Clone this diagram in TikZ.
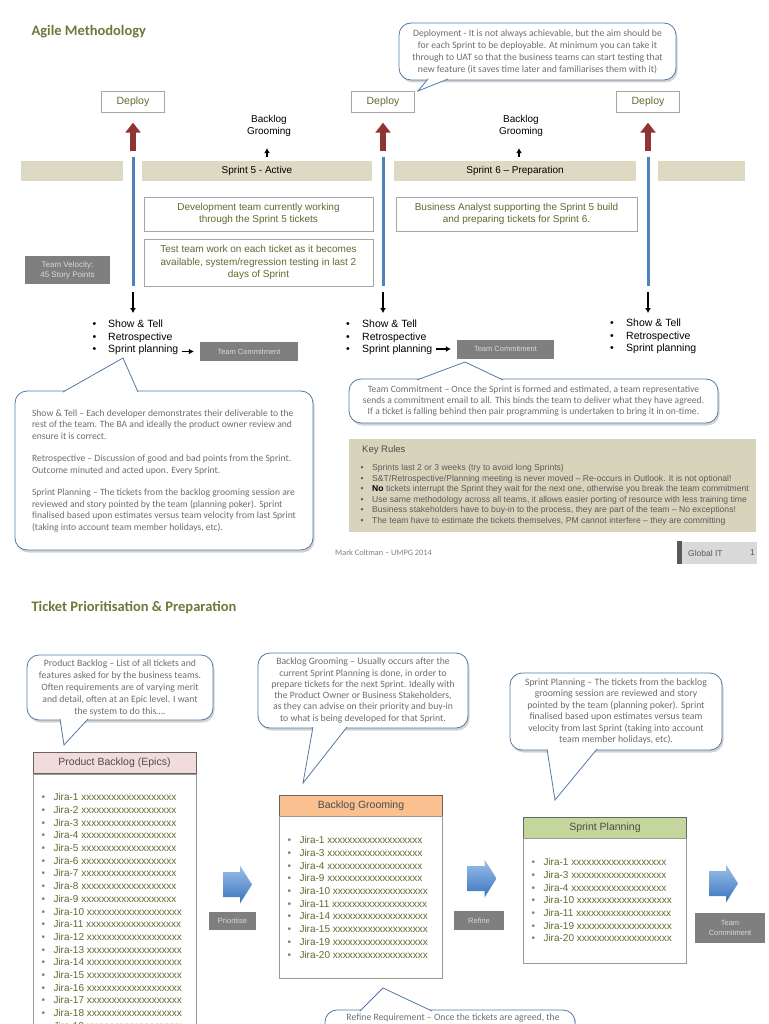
\documentclass[tikz,border=0pt]{standalone}
\usepackage{fontspec}
\setmainfont{Liberation Sans}
\newfontfamily\calfont{Carlito}
\usepackage{xcolor}
\usetikzlibrary{positioning,arrows.meta,shadows}

\definecolor{olivetxt}{HTML}{5E6B30}
\definecolor{titlegreen}{HTML}{687B3B}
\definecolor{bartan}{HTML}{DDD9C3}
\definecolor{rulestan}{HTML}{D8D4BC}
\definecolor{lineblue}{HTML}{4F81BD}
\definecolor{deployred}{HTML}{8E3432}
\definecolor{taggray}{HTML}{7F7F7F}
\definecolor{tagtext}{HTML}{D9D9D9}
\definecolor{calloutline}{HTML}{5479A6}
\definecolor{callouttext}{HTML}{6E6E6E}
\definecolor{rulestext}{HTML}{5A5A5A}
\definecolor{epicpink}{HTML}{F2DCDB}
\definecolor{groomorange}{HTML}{FAC090}
\definecolor{plangreen}{HTML}{C3D69B}
\definecolor{arrowlight}{HTML}{9CC0EA}
\definecolor{arrowdark}{HTML}{3A73BE}

\newcommand{\bul}[1]{\makebox[#1][l]{\textbullet}}
\newcommand{\gbul}{\makebox[12pt][l]{\textcolor{gray}{\textbullet}}}
\newcommand{\xs}{xxxxxxxxxxxxxxxxxxx}
\newcommand{\calloutptr}[4]{%
  \fill[white] ([yshift=#4]#1) -- (#2) -- ([yshift=#4]#3) -- cycle;
  \draw[pointer] ([yshift=#4]#1) -- (#2) -- ([yshift=#4]#3);}

\begin{document}
\begin{tikzpicture}[
    x=1pt, y=-1pt,
    title/.style={anchor=west, text=titlegreen, font=\calfont\bfseries\fontsize{14.5}{16}\selectfont},
    deploybox/.style={draw=gray!70, minimum width=63pt, minimum height=21pt,
                      text=olivetxt, font=\fontsize{10.5}{12}\selectfont},
    sprintbar/.style={fill=bartan, minimum height=20pt, inner sep=0pt,
                      font=\fontsize{10}{12}\selectfont},
    workbox/.style={draw=gray!70, fill=white, align=center, text=olivetxt,
                    inner sep=0pt, font=\fontsize{10}{12.5}\selectfont},
    tag/.style={fill=taggray, text=tagtext, align=center, inner sep=0pt,
                font=\fontsize{7.5}{9.5}\selectfont},
    bullets/.style={anchor=north west, align=left, inner sep=0pt,
                    font=\fontsize{10.5}{12.7}\selectfont},
    callout/.style={draw=calloutline, fill=white, rounded corners=12pt, line width=0.8pt,
                    text=callouttext, align=center, inner sep=0pt,
                    drop shadow={shadow xshift=1.5pt, shadow yshift=-2.5pt, opacity=0.35}},
    pointer/.style={draw=calloutline, line width=0.8pt},
    redarr/.style={draw=deployred, line width=6pt, -{Triangle[length=10pt, width=15pt]}},
    blkarr/.style={-{Latex[length=5pt, width=6pt]}, line width=1.2pt},
    blueline/.style={draw=lineblue, line width=3pt},
    header/.style={draw=gray!80!black, minimum width=163pt, minimum height=21pt,
                   text=black!70, font=\fontsize{10.5}{12}\selectfont},
    listbox/.style={draw=gray!80, fill=white, minimum width=163pt, inner sep=0pt},
    jira/.style={anchor=north west, align=left, inner sep=0pt, text=olivetxt,
                 font=\fontsize{10}{12.7}\selectfont},
    fatarrow/.style={top color=arrowlight, bottom color=arrowdark},
  ]
  \useasboundingbox (0,0) rectangle (768,1024);
  \clip (0,0) rectangle (768,1024);

  \node[title] (agile) at (28,32) {Agile Methodology};

  \node[deploybox] (dep1) at (133,102) {Deploy};
  \node[deploybox] (dep2) at (383,102) {Deploy};
  \node[deploybox] (dep3) at (648,102) {Deploy};

  \node[align=center, font=\fontsize{10}{12}\selectfont] (bg5) at (269,126) {Backlog\\Grooming};
  \node[align=center, font=\fontsize{10}{12}\selectfont] (bg6) at (521,126) {Backlog\\Grooming};

  \node[sprintbar, minimum width=102pt] (bar0) at (72,171) {};
  \node[sprintbar, minimum width=230pt] (bar5) at (257,171) {Sprint 5 - Active};
  \node[sprintbar, minimum width=242pt] (bar6) at (515,171) {Sprint 6 \textendash{} Preparation};
  \node[sprintbar, minimum width=87pt] (bar7) at (701.5,171) {};

  \coordinate (g5) at (267,157);
  \coordinate (g6) at (519,157);
  \draw[blkarr, shorten >=8pt] (g5) -- (g5 |- bg5.south);
  \draw[blkarr, shorten >=8pt] (g6) -- (g6 |- bg6.south);

  \foreach \i/\x in {1/133, 2/383, 3/648} {
    \coordinate (top\i) at (\x,157);
    \coordinate (bot\i) at (\x,286);
    \coordinate (red\i) at (\x,151);
    \coordinate (dn\i) at (\x,292);
    \coordinate (end\i) at (\x,313);
    \draw[blueline] (top\i) -- (bot\i);
    \draw[redarr, shorten >=10pt] (red\i) -- (dep\i.south);
    \draw[blkarr] (dn\i) -- (end\i);
  }

  \node[workbox, minimum width=229pt, minimum height=34pt] (dev) at (258.5,214)
    {Development team currently working\\through the Sprint 5 tickets};
  \node[workbox, minimum width=229pt, minimum height=47pt] (test) at (258.5,262.5)
    {Test team  work on each ticket as it becomes\\available, system/regression testing in last 2\\days of Sprint};
  \node[workbox, minimum width=241pt, minimum height=34pt] (ba) at (516.5,214)
    {Business Analyst supporting the Sprint 5 build\\and preparing tickets for Sprint 6.};

  \node[tag, minimum width=85pt, minimum height=28pt, font=\fontsize{8}{10}\selectfont]
    (vel) at (67.5,270) {Team Velocity:\\45 Story Points};

  \node[bullets] (sl1) at (92.5,319.5) {\bul{15.5pt}Show \& Tell\\\bul{15.5pt}Retrospective\\\bul{15.5pt}Sprint planning};
  \node[bullets] (sl2) at (346,319.5) {\bul{16pt}Show \& Tell\\\bul{16pt}Retrospective\\\bul{16pt}Sprint planning};
  \node[bullets] (sl3) at (610,318.5) {\bul{16pt}Show \& Tell\\\bul{16pt}Retrospective\\\bul{16pt}Sprint planning};

  \node[tag, minimum width=98pt, minimum height=19pt] (tc1) at (249,351.5) {Team Commitment};
  \node[tag, minimum width=97pt, minimum height=19pt] (tc2) at (505.5,349) {Team Commitment};
  \draw[blkarr, shorten <=4pt, shorten >=6pt] (sl1.east |- tc1) -- (tc1.west);
  \draw[blkarr, shorten <=4pt, shorten >=6pt] (sl2.east |- tc2) -- (tc2.west);

  \node[callout, minimum width=277pt, minimum height=57pt, font=\calfont\fontsize{9.7}{12}\selectfont]
    (depnote) at (537.5,51.5)
    {Deployment - It is not always achievable, but the aim should be\\
     for each Sprint to be deployable. At minimum you can take it\\
     through to UAT so that the business teams can start testing that\\
     new feature (it saves time later and familiarises them with it)};
  \calloutptr{428,80}{418,91}{448,80}{1pt}

  \node[callout, minimum width=298pt, minimum height=159pt, align=left,
        font=\calfont\fontsize{9.6}{11.5}\selectfont] (stnote) at (164,470.5)
    {Show \& Tell \textendash{} Each developer demonstrates their deliverable to the\\
     rest of the team. The BA and ideally the product owner review and\\
     ensure it is correct.\\[11pt]
     Retrospective \textendash{} Discussion of good and bad points from the Sprint.\\
     Outcome minuted and acted upon. Every Sprint.\\[11pt]
     Sprint Planning \textendash{} The tickets from the backlog grooming session are\\
     reviewed and story pointed by the team (planning poker). Sprint\\
     finalised based upon estimates versus team velocity from last Sprint\\
     (taking into account team member holidays, etc).};
  \calloutptr{63,391}{123,358}{138,391}{-1pt}

  \node[callout, minimum width=369pt, minimum height=44pt, font=\calfont\fontsize{9.6}{11.2}\selectfont]
    (tcnote) at (533.5,401)
    {Team Commitment \textendash{} Once the Sprint is formed and estimated, a team representative\\
     sends a commitment email to all. This binds the team to deliver what they have agreed.\\
     If a ticket is falling behind then pair programming is undertaken to bring it in on-time.};
  \calloutptr{417,379}{465,362}{503,379}{-1pt}

  \node[fill=rulestan, minimum width=407pt, minimum height=93pt] (rules) at (552.5,485.5) {};
  \node[anchor=west, inner sep=0pt, text=black!70, font=\fontsize{9.5}{11}\selectfont]
    (rulestitle) at (362,450) {Key Rules};
  \node[anchor=north west, align=left, inner sep=0pt, text=rulestext,
        font=\fontsize{8.6}{10.6}\selectfont] (ruleslist) at (360.5,464)
    {\bul{11.5pt}Sprints last 2 or 3 weeks (try to avoid long Sprints)\\
     \bul{11.5pt}S\&T/Retrospective/Planning meeting is never moved \textendash{} Re-occurs in Outlook. It is not optional!\\
     \bul{11.5pt}\textcolor{black}{\textbf{No}} tickets interrupt the Sprint they wait for the next one, otherwise you break the team commitment\\
     \bul{11.5pt}Use same methodology across all teams, it allows easier porting of resource with less training time\\
     \bul{11.5pt}Business stakeholders have to buy-in to the process, they are part of the team \textendash{} No exceptions!\\
     \bul{11.5pt}The team have to estimate the tickets themselves, PM cannot interfere \textendash{} they are committing};

  \node[anchor=west, inner sep=0pt, text=gray, font=\calfont\fontsize{8.3}{9}\selectfont]
    (footer) at (335,553) {Mark Coltman \textendash{} UMPG 2014};
  \fill[black!65] (677,541) rectangle (682,564);
  \node[fill=black!15, anchor=west, minimum width=75pt, minimum height=22pt] (globit) at (682,552.5) {};
  \node[anchor=west, inner sep=0pt, text=black!65, font=\fontsize{8.5}{10}\selectfont]
    (globtxt) at (688,553) {Global IT};
  \node[anchor=west, inner sep=0pt, text=black!65, font=\fontsize{8.5}{10}\selectfont]
    (pagenum) at (750,553) {1};

  \node[title] (ticket) at (28,608) {Ticket Prioritisation \& Preparation};

  \node[callout, minimum width=186pt, minimum height=65pt, font=\calfont\fontsize{9.7}{12}\selectfont]
    (pbnote) at (120,687.5)
    {Product Backlog \textendash{} List of all tickets and\\
     features asked for by the business teams.\\
     Often requirements are of varying merit\\
     and detail, often at an Epic level. I want\\
     the system to do this\ldots.};
  \calloutptr{60,720}{64,745}{88,720}{1pt}

  \node[callout, minimum width=210pt, minimum height=75pt, font=\calfont\fontsize{9.7}{11.3}\selectfont]
    (bgnote) at (363,690.5)
    {Backlog Grooming \textendash{} Usually occurs after the\\
     current Sprint Planning is done, in order to\\
     prepare tickets for the next Sprint. Ideally with\\
     the Product Owner or Business Stakeholders,\\
     as they can advise on their priority and buy-in\\
     to what is being developed for that Sprint.};
  \calloutptr{313,728}{303,783}{347,728}{1pt}

  \node[callout, minimum width=212pt, minimum height=77pt, font=\calfont\fontsize{9.8}{11.5}\selectfont]
    (spnote) at (616,711.5)
    {Sprint Planning \textendash{} The tickets from the backlog\\
     grooming session are reviewed and story\\
     pointed by the team (planning poker). Sprint\\
     finalised based upon estimates versus team\\
     velocity from last Sprint (taking into account\\
     team member holidays, etc).};
  \calloutptr{547,750}{555,800}{597,750}{1pt}

  \node[callout, minimum width=250pt, minimum height=70pt] (rrnote) at (450,1045) {};
  \calloutptr{360,1010}{383,988}{432,1010}{-1pt}
  \node[text=callouttext, inner sep=0pt, font=\calfont\fontsize{9.7}{11}\selectfont]
    (rrtxt) at (453,1018) {Refine Requirement \textendash{} Once the tickets are agreed, the};

  \node[header, fill=epicpink] (pbh) at (114.5,763) {Product Backlog (Epics)};
  \node[listbox, minimum height=300pt, below=0pt of pbh] (pbb) {};
  \node[jira] (pblist) at (41.3,793.3)
    {\gbul Jira-1 \xs\\\gbul Jira-2 \xs\\\gbul Jira-3 \xs\\\gbul Jira-4 \xs\\
     \gbul Jira-5 \xs\\\gbul Jira-6 \xs\\\gbul Jira-7 \xs\\\gbul Jira-8 \xs\\
     \gbul Jira-9 \xs\\\gbul Jira-10 \xs\\\gbul Jira-11 \xs\\\gbul Jira-12 \xs\\
     \gbul Jira-13 \xs\\\gbul Jira-14 \xs\\\gbul Jira-15 \xs\\\gbul Jira-16 \xs\\
     \gbul Jira-17 \xs\\\gbul Jira-18 \xs\\\gbul Jira-19 \xs};

  \node[header, fill=groomorange] (bgh) at (361,805.5) {Backlog Grooming};
  \node[listbox, minimum height=162pt, below=0pt of bgh] (bgb) {};
  \node[jira] (bglist) at (287.3,836.3)
    {\gbul Jira-1 \xs\\\gbul Jira-3 \xs\\\gbul Jira-4 \xs\\\gbul Jira-9 \xs\\
     \gbul Jira-10 \xs\\\gbul Jira-11 \xs\\\gbul Jira-14 \xs\\\gbul Jira-15 \xs\\
     \gbul Jira-19 \xs\\\gbul Jira-20 \xs};

  \node[header, fill=plangreen] (sph) at (605,827.5) {Sprint Planning};
  \node[listbox, minimum height=125pt, below=0pt of sph] (spb) {};
  \node[jira] (splist) at (531.3,858.3)
    {\gbul Jira-1 \xs\\\gbul Jira-3 \xs\\\gbul Jira-4 \xs\\\gbul Jira-10 \xs\\
     \gbul Jira-11 \xs\\\gbul Jira-19 \xs\\\gbul Jira-20 \xs};

  \coordinate (prio) at (237.5,884.5);
  \coordinate (refine) at (482,878.5);
  \coordinate (commit) at (723.5,883.5);
  \foreach \c in {prio, refine, commit}
    \shade[fatarrow, shift={(\c)}] (-14.5,-12.5) -- (2.5,-12.5) -- (2.5,-19) -- (14.5,0)
      -- (2.5,19) -- (2.5,12.5) -- (-14.5,12.5) -- cycle;

  \node[tag, minimum width=47pt, minimum height=18pt] (priotag) at (232.5,920.5) {Prioritise};
  \node[tag, minimum width=50pt, minimum height=19pt] (reftag) at (479,920.5) {Refine};
  \node[tag, minimum width=70pt, minimum height=30pt] (comtag) at (730,928) {Team\\Commitment};
\end{tikzpicture}
\end{document}
